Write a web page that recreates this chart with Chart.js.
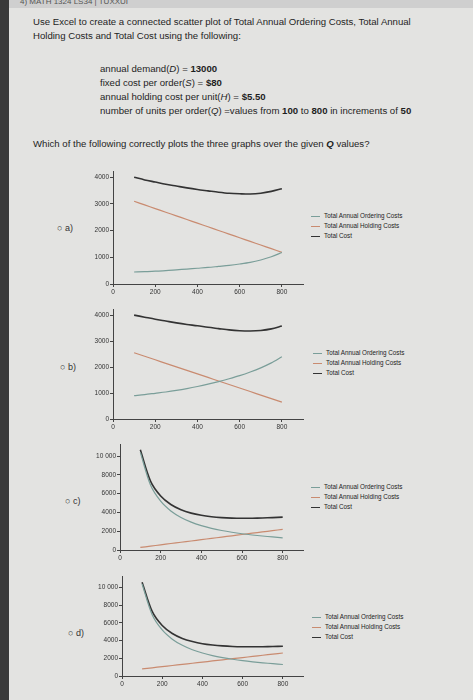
<!DOCTYPE html>
<html><head><meta charset="utf-8">
<script src="https://cdn.jsdelivr.net/npm/chart.js@4"></script>
<style>
body{margin:0;width:473px;height:700px;background:#e3e3e1;font-family:"Liberation Sans",Arial,sans-serif;color:#1e1e1e;position:relative;overflow:hidden}
.t{position:absolute;font-size:9.6px;white-space:nowrap}
.strip{position:absolute;left:0;top:0;width:9px;height:700px;background:#3a3a3a}
.top{position:absolute;left:0;top:0;width:473px;height:8px;background:#cfcfcf}
canvas{position:absolute}
.opt{position:absolute;font-size:9px;color:#333}
.leg{position:absolute;font-size:6.3px;line-height:10px;color:#222}
.leg span{display:inline-block;width:9px;height:1.5px;vertical-align:middle;margin-right:4px}
</style></head><body>
<div class="top"></div><div class="strip"></div>
<div class="t" style="left:20px;top:-3px;font-size:8px;color:#555">4) MATH 1324 LS34 | TUXXUI</div>
<div class="t" style="left:33px;top:16px">Use Excel to create a connected scatter plot of Total Annual Ordering Costs, Total Annual</div>
<div class="t" style="left:33px;top:30px">Holding Costs and Total Cost using the following:</div>
<div class="t" style="left:100px;top:63px">annual demand(<i>D</i>) = <b>13000</b></div>
<div class="t" style="left:100px;top:77px">fixed cost per order(<i>S</i>) = <b>$80</b></div>
<div class="t" style="left:100px;top:91px">annual holding cost per unit(<i>H</i>) = <b>$5.50</b></div>
<div class="t" style="left:100px;top:105px">number of units per order(<i>Q</i>) =values from <b>100</b> to <b>800</b> in increments of <b>50</b></div>
<div class="t" style="left:33px;top:138px">Which of the following correctly plots the three graphs over the given <i><b>Q</b></i> values?</div>

<div class="opt" style="left:57px;top:223px">○ a)</div>
<div class="opt" style="left:60px;top:362px">○ b)</div>
<div class="opt" style="left:65px;top:496px">○ c)</div>
<div class="opt" style="left:68px;top:628px">○ d)</div>

<canvas id="ca" style="left:83px;top:167px"></canvas>
<canvas id="cb" style="left:83px;top:305px"></canvas>
<canvas id="cc" style="left:90px;top:440px"></canvas>
<canvas id="cd" style="left:92px;top:572px"></canvas>

<div class="leg" style="left:311px;top:211px"><span style="background:#7a9e99"></span>Total Annual Ordering Costs<br><span style="background:#c98b70"></span>Total Annual Holding Costs<br><span style="background:#333"></span>Total Cost</div>
<div class="leg" style="left:313px;top:348px"><span style="background:#7a9e99"></span>Total Annual Ordering Costs<br><span style="background:#c98b70"></span>Total Annual Holding Costs<br><span style="background:#333"></span>Total Cost</div>
<div class="leg" style="left:311px;top:482px"><span style="background:#7a9e99"></span>Total Annual Ordering Costs<br><span style="background:#c98b70"></span>Total Annual Holding Costs<br><span style="background:#333"></span>Total Cost</div>
<div class="leg" style="left:312px;top:612px"><span style="background:#7a9e99"></span>Total Annual Ordering Costs<br><span style="background:#c98b70"></span>Total Annual Holding Costs<br><span style="background:#333"></span>Total Cost</div>

<script>
const Q = [100,150,200,250,300,350,400,450,500,550,600,650,700,750,800];
const xTicks = [0,200,400,600,800];
const aOrdering = [450,460,480,500,530,560,590,620,660,700,750,810,900,1020,1180];
const aHolding = [3100,2963,2826,2690,2553,2416,2280,2143,2006,1870,1733,1596,1460,1323,1186];
const aTotal = [4000,3900,3820,3740,3670,3600,3540,3490,3440,3400,3380,3370,3400,3470,3570];
const bOrdering = [900,940,990,1040,1100,1170,1250,1340,1440,1550,1670,1810,1970,2160,2400];
const bHolding = [2550,2414,2279,2143,2007,1871,1736,1600,1464,1329,1193,1057,921,786,650];
const bTotal = [4000,3920,3840,3770,3700,3640,3590,3530,3480,3430,3400,3390,3410,3470,3580];
const cOrdering = [10400,6930,5200,4160,3470,2970,2600,2310,2080,1890,1730,1600,1490,1390,1300];
const cHolding = [275,410,550,690,825,960,1100,1240,1375,1510,1650,1790,1925,2060,2200];
const cTotal = [10675,7340,5750,4850,4295,3930,3700,3550,3455,3400,3380,3390,3415,3450,3500];
const dOrdering = [10400,6930,5200,4160,3470,2970,2600,2310,2080,1890,1730,1600,1490,1390,1300];
const dHolding = [800,929,1057,1186,1314,1443,1571,1700,1829,1957,2086,2214,2343,2471,2600];
const dTotal = [10600,7300,5700,4800,4250,3900,3650,3500,3400,3340,3310,3300,3310,3330,3360];
const yTicksA = [0,1000,2000,3000,4000];
const yTicksC = [0,2000,4000,6000,8000,10000];

function pts(v){return Q.map((q,i)=>({x:q,y:v[i]}));}
function make(id,w,h,ord,hold,tot,ymax,yt){
  const c=document.getElementById(id); c.width=w; c.height=h;
  new Chart(c,{type:'scatter',
    data:{datasets:[
      {data:pts(ord),borderColor:'#7a9e99'},
      {data:pts(hold),borderColor:'#c98b70'},
      {data:pts(tot),borderColor:'#333333',borderWidth:1.6}
    ].map(d=>Object.assign({showLine:true,pointRadius:0,borderWidth:1.2,tension:0.3},d))},
    options:{responsive:false,animation:false,
      plugins:{legend:{display:false},tooltip:{enabled:false}},
      layout:{padding:{top:0,right:2}},
      scales:{
        x:{type:'linear',min:0,max:900,afterBuildTicks:s=>{s.ticks=xTicks.map(v=>({value:v}));},
          afterFit:s=>{s.height=18;},
          grid:{drawOnChartArea:false,tickLength:3,color:'#444'},border:{color:'#444'},
          ticks:{font:{size:6.5},color:'#333',padding:1}},
        y:{min:0,max:ymax,afterBuildTicks:s=>{s.ticks=yt.map(v=>({value:v}));},
          afterFit:s=>{s.width=30;},
          grid:{drawOnChartArea:false,tickLength:3,color:'#444'},border:{color:'#444'},
          ticks:{font:{size:6.5},color:'#333',padding:1,callback:v=>v===10000?'10 000':v}}
      }}});
}
make('ca',222,135,aOrdering,aHolding,aTotal,4200,yTicksA);
make('cb',222,132,bOrdering,bHolding,bTotal,4200,yTicksA);
make('cc',215,128,cOrdering,cHolding,cTotal,11200,yTicksC);
make('cd',213,122,dOrdering,dHolding,dTotal,11200,yTicksC);
</script>
</body></html>
